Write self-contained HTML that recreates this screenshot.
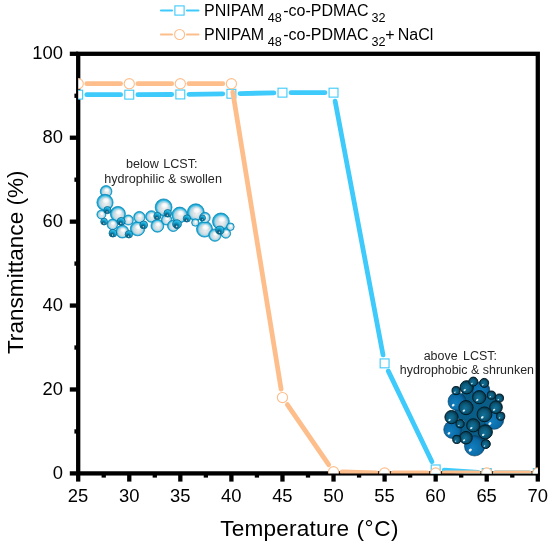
<!DOCTYPE html>
<html><head><meta charset="utf-8"><title>Transmittance vs Temperature</title>
<style>
html,body{margin:0;padding:0;background:#fff;}
body{width:550px;height:545px;overflow:hidden;}
svg{display:block;}
text{font-family:"Liberation Sans",Arial,sans-serif;fill:#000;}
</style></head><body>
<svg width="550" height="545" viewBox="0 0 550 545">
<defs>
<clipPath id="plot"><rect x="78.20" y="53.80" width="459.60" height="419.60"/></clipPath>
<radialGradient id="gl" cx="0.5" cy="0.5" r="0.5" fx="0.57" fy="0.62">
<stop offset="0" stop-color="#e9eef0"/><stop offset="0.4" stop-color="#d9e2e6"/><stop offset="0.6" stop-color="#c6d9e1"/><stop offset="0.74" stop-color="#97d3e7"/><stop offset="0.85" stop-color="#3ab8df"/><stop offset="0.94" stop-color="#14a3d2"/><stop offset="1" stop-color="#0b8bb8"/>
</radialGradient>
<radialGradient id="hl" cx="0.5" cy="0.5" r="0.5">
<stop offset="0" stop-color="#ffffff" stop-opacity="1"/><stop offset="0.5" stop-color="#ffffff" stop-opacity="0.75"/><stop offset="1" stop-color="#ffffff" stop-opacity="0"/>
</radialGradient>
<radialGradient id="gd" cx="0.4" cy="0.72" r="0.72" fx="0.38" fy="0.76">
<stop offset="0" stop-color="#05445e"/><stop offset="0.3" stop-color="#086a90"/><stop offset="0.58" stop-color="#14a0cc"/><stop offset="0.82" stop-color="#2dbbe6"/><stop offset="1" stop-color="#3cc4ec"/>
</radialGradient>
<radialGradient id="gb" cx="0.4" cy="0.6" r="0.65">
<stop offset="0" stop-color="#127fbf"/><stop offset="0.7" stop-color="#0a69a4"/><stop offset="1" stop-color="#05426c"/>
</radialGradient>
<radialGradient id="gk" cx="0.45" cy="0.55" r="0.6">
<stop offset="0" stop-color="#12729a"/><stop offset="0.55" stop-color="#0b5878"/><stop offset="0.85" stop-color="#06384d"/><stop offset="1" stop-color="#021c27"/>
</radialGradient>
</defs>
<rect width="550" height="545" fill="#fff"/>

<g stroke="#000" stroke-width="4.3" fill="none">
<rect x="78.2" y="53.8" width="459.60" height="419.60"/>
<line x1="69.8" x2="78.2" y1="473.40" y2="473.40"/>
<line x1="69.8" x2="78.2" y1="389.48" y2="389.48"/>
<line x1="69.8" x2="78.2" y1="305.56" y2="305.56"/>
<line x1="69.8" x2="78.2" y1="221.64" y2="221.64"/>
<line x1="69.8" x2="78.2" y1="137.72" y2="137.72"/>
<line x1="69.8" x2="78.2" y1="53.80" y2="53.80"/>
<line x1="74.4" x2="78.2" y1="431.44" y2="431.44"/>
<line x1="74.4" x2="78.2" y1="347.52" y2="347.52"/>
<line x1="74.4" x2="78.2" y1="263.60" y2="263.60"/>
<line x1="74.4" x2="78.2" y1="179.68" y2="179.68"/>
<line x1="74.4" x2="78.2" y1="95.76" y2="95.76"/>
<line y1="473.4" y2="481.6" x1="78.20" x2="78.20"/>
<line y1="473.4" y2="481.6" x1="129.27" x2="129.27"/>
<line y1="473.4" y2="481.6" x1="180.33" x2="180.33"/>
<line y1="473.4" y2="481.6" x1="231.40" x2="231.40"/>
<line y1="473.4" y2="481.6" x1="282.47" x2="282.47"/>
<line y1="473.4" y2="481.6" x1="333.53" x2="333.53"/>
<line y1="473.4" y2="481.6" x1="384.60" x2="384.60"/>
<line y1="473.4" y2="481.6" x1="435.67" x2="435.67"/>
<line y1="473.4" y2="481.6" x1="486.73" x2="486.73"/>
<line y1="473.4" y2="481.6" x1="537.80" x2="537.80"/>
<line y1="473.4" y2="477.6" x1="103.73" x2="103.73"/>
<line y1="473.4" y2="477.6" x1="154.80" x2="154.80"/>
<line y1="473.4" y2="477.6" x1="205.87" x2="205.87"/>
<line y1="473.4" y2="477.6" x1="256.93" x2="256.93"/>
<line y1="473.4" y2="477.6" x1="308.00" x2="308.00"/>
<line y1="473.4" y2="477.6" x1="359.07" x2="359.07"/>
<line y1="473.4" y2="477.6" x1="410.13" x2="410.13"/>
<line y1="473.4" y2="477.6" x1="461.20" x2="461.20"/>
<line y1="473.4" y2="477.6" x1="512.27" x2="512.27"/>
</g>
<g font-size="18.4" text-anchor="end">
<text x="62.9" y="478.50">0</text>
<text x="62.9" y="394.58">20</text>
<text x="62.9" y="310.66">40</text>
<text x="62.9" y="226.74">60</text>
<text x="62.9" y="142.82">80</text>
<text x="62.9" y="58.90">100</text>
</g>
<g font-size="18.4" text-anchor="middle">
<text x="78.10" y="501.8">25</text>
<text x="129.17" y="501.8">30</text>
<text x="180.23" y="501.8">35</text>
<text x="231.30" y="501.8">40</text>
<text x="282.37" y="501.8">45</text>
<text x="333.43" y="501.8">50</text>
<text x="384.50" y="501.8">55</text>
<text x="435.57" y="501.8">60</text>
<text x="486.63" y="501.8">65</text>
<text x="537.70" y="501.8">70</text>
</g>
<text x="220.3" y="536.1" font-size="22.6"><tspan letter-spacing="0.2">Temperature </tspan><tspan x="356.6" letter-spacing="0.5">(°C)</tspan></text>
<text transform="translate(23.0 354.1) rotate(-90)" font-size="22.6">Transmittance (%)</text>
<g clip-path="url(#plot)">
<g stroke="#3ecafa" stroke-width="4.8" stroke-linecap="round" fill="none"><line x1="86.80" y1="94.67" x2="120.67" y2="94.67"/><line x1="137.87" y1="94.64" x2="171.73" y2="94.50"/><line x1="188.93" y1="94.34" x2="222.80" y2="93.87"/><line x1="240.00" y1="93.57" x2="273.87" y2="92.84"/><line x1="291.07" y1="92.66" x2="324.93" y2="92.66"/><line x1="335.13" y1="101.11" x2="383.01" y2="354.93"/><line x1="388.33" y1="371.13" x2="431.94" y2="461.69"/><line x1="444.25" y1="470.04" x2="478.15" y2="472.40"/><line x1="495.33" y1="473.00" x2="529.20" y2="473.00"/></g>
<g stroke="#3ecafa" stroke-width="1.1" fill="#fff"><rect x="73.75" y="90.22" width="8.9" height="8.9"/><rect x="124.82" y="90.22" width="8.9" height="8.9"/><rect x="175.88" y="90.01" width="8.9" height="8.9"/><rect x="226.95" y="89.30" width="8.9" height="8.9"/><rect x="278.02" y="88.21" width="8.9" height="8.9"/><rect x="329.08" y="88.21" width="8.9" height="8.9"/><rect x="380.15" y="358.93" width="8.9" height="8.9"/><rect x="431.22" y="464.99" width="8.9" height="8.9"/><rect x="482.28" y="468.55" width="8.9" height="8.9"/><rect x="533.35" y="468.55" width="8.9" height="8.9"/></g>
<g stroke="#febe8b" stroke-width="4.8" stroke-linecap="round" fill="none"><line x1="86.80" y1="83.69" x2="120.67" y2="83.69"/><line x1="137.87" y1="83.69" x2="171.73" y2="83.69"/><line x1="188.93" y1="83.69" x2="222.80" y2="83.69"/><line x1="232.78" y1="92.18" x2="281.09" y2="389.06"/><line x1="287.34" y1="404.63" x2="328.66" y2="464.66"/><line x1="342.13" y1="471.95" x2="376.00" y2="472.79"/><line x1="393.20" y1="473.00" x2="427.07" y2="473.00"/><line x1="444.27" y1="473.00" x2="478.13" y2="473.00"/><line x1="495.33" y1="473.00" x2="529.20" y2="473.00"/></g>
<g stroke="#febe8b" stroke-width="1.1" fill="#fff"><circle cx="78.20" cy="83.69" r="5.1"/><circle cx="129.27" cy="83.69" r="5.1"/><circle cx="180.33" cy="83.69" r="5.1"/><circle cx="231.40" cy="83.69" r="5.1"/><circle cx="282.47" cy="397.54" r="5.1"/><circle cx="333.53" cy="471.74" r="5.1"/><circle cx="384.60" cy="473.00" r="5.1"/><circle cx="435.67" cy="473.00" r="5.1"/><circle cx="486.73" cy="473.00" r="5.1"/><circle cx="537.80" cy="473.00" r="5.1"/></g>
</g>
<g stroke="#3ecafa" stroke-width="2.2" stroke-linecap="round"><line x1="161" y1="10.5" x2="172" y2="10.5"/><line x1="187" y1="10.5" x2="198.4" y2="10.5"/></g>
<rect x="174.9" y="5.9" width="9.2" height="9.2" fill="#fff" stroke="#3ecafa" stroke-width="1.1"/>
<g stroke="#febe8b" stroke-width="2.2" stroke-linecap="round"><line x1="161" y1="34.5" x2="172" y2="34.5"/><line x1="187" y1="34.5" x2="198.4" y2="34.5"/></g>
<circle cx="179.6" cy="34.5" r="5" fill="#fff" stroke="#febe8b" stroke-width="1.1"/>
<text y="15.8" font-size="16"><tspan x="204">PNIPAM</tspan><tspan x="267.7" font-size="12.6" dy="5.8">48</tspan><tspan x="283.2" dy="-5.8">-co-PDMAC</tspan><tspan x="371.6" font-size="12.6" dy="5.8">32</tspan></text>
<text y="40.2" font-size="16"><tspan x="204">PNIPAM</tspan><tspan x="267.7" font-size="12.6" dy="5.8">48</tspan><tspan x="283.2" dy="-5.8">-co-PDMAC</tspan><tspan x="371.6" font-size="12.6" dy="5.8">32</tspan><tspan x="385.2" dy="-5.8">+</tspan><tspan x="397.8">NaCl</tspan></text>
<g text-anchor="middle"><text x="161.8" y="168.2" font-size="12.6" word-spacing="0.8" style="fill:#262626">below LCST:</text><text x="163.1" y="183.0" font-size="12.6" style="fill:#262626">hydrophilic &amp; swollen</text>
<text x="460.3" y="359.8" font-size="12.45" word-spacing="2" style="fill:#262626">above LCST:</text><text x="466.9" y="374.2" font-size="12.45" style="fill:#262626">hydrophobic &amp; shrunken</text></g>
<g>
<circle cx="106.1" cy="191.4" r="5.8" fill="url(#gl)" stroke="#0e8dbb" stroke-width="0.8"/>
<ellipse cx="106.80" cy="190.12" rx="2.90" ry="2.44" fill="url(#hl)"/>
<circle cx="105" cy="202.4" r="8.1" fill="url(#gl)" stroke="#0e8dbb" stroke-width="0.8"/>
<ellipse cx="105.97" cy="200.62" rx="4.05" ry="3.40" fill="url(#hl)"/>
<circle cx="101.4" cy="214.5" r="4.5" fill="url(#gl)" stroke="#0e8dbb" stroke-width="0.8"/>
<ellipse cx="101.94" cy="213.51" rx="2.25" ry="1.89" fill="url(#hl)"/>
<circle cx="117.9" cy="213.9" r="7.5" fill="url(#gl)" stroke="#0e8dbb" stroke-width="0.8"/>
<ellipse cx="118.80" cy="212.25" rx="3.75" ry="3.15" fill="url(#hl)"/>
<circle cx="112.4" cy="224.4" r="5.3" fill="url(#gl)" stroke="#0e8dbb" stroke-width="0.8"/>
<ellipse cx="113.04" cy="223.23" rx="2.65" ry="2.23" fill="url(#hl)"/>
<circle cx="122.3" cy="231.6" r="6.4" fill="url(#gl)" stroke="#0e8dbb" stroke-width="0.8"/>
<ellipse cx="123.07" cy="230.19" rx="3.20" ry="2.69" fill="url(#hl)"/>
<circle cx="128.3" cy="220" r="5" fill="url(#gl)" stroke="#0e8dbb" stroke-width="0.8"/>
<ellipse cx="128.90" cy="218.90" rx="2.50" ry="2.10" fill="url(#hl)"/>
<circle cx="137.6" cy="228.6" r="7.2" fill="url(#gl)" stroke="#0e8dbb" stroke-width="0.8"/>
<ellipse cx="138.46" cy="227.02" rx="3.60" ry="3.02" fill="url(#hl)"/>
<circle cx="139.4" cy="217.1" r="5.7" fill="url(#gl)" stroke="#0e8dbb" stroke-width="0.8"/>
<ellipse cx="140.08" cy="215.85" rx="2.85" ry="2.39" fill="url(#hl)"/>
<circle cx="151.4" cy="216.5" r="5.8" fill="url(#gl)" stroke="#0e8dbb" stroke-width="0.8"/>
<ellipse cx="152.10" cy="215.22" rx="2.90" ry="2.44" fill="url(#hl)"/>
<circle cx="157.4" cy="225.8" r="6.4" fill="url(#gl)" stroke="#0e8dbb" stroke-width="0.8"/>
<ellipse cx="158.17" cy="224.39" rx="3.20" ry="2.69" fill="url(#hl)"/>
<circle cx="163.6" cy="207.3" r="8.4" fill="url(#gl)" stroke="#0e8dbb" stroke-width="0.8"/>
<ellipse cx="164.61" cy="205.45" rx="4.20" ry="3.53" fill="url(#hl)"/>
<circle cx="166.6" cy="219.8" r="5.2" fill="url(#gl)" stroke="#0e8dbb" stroke-width="0.8"/>
<ellipse cx="167.22" cy="218.66" rx="2.60" ry="2.18" fill="url(#hl)"/>
<circle cx="173.2" cy="225.8" r="5.7" fill="url(#gl)" stroke="#0e8dbb" stroke-width="0.8"/>
<ellipse cx="173.88" cy="224.55" rx="2.85" ry="2.39" fill="url(#hl)"/>
<circle cx="179.7" cy="214.9" r="7.8" fill="url(#gl)" stroke="#0e8dbb" stroke-width="0.8"/>
<ellipse cx="180.64" cy="213.18" rx="3.90" ry="3.28" fill="url(#hl)"/>
<circle cx="195.8" cy="212.2" r="8.4" fill="url(#gl)" stroke="#0e8dbb" stroke-width="0.8"/>
<ellipse cx="196.81" cy="210.35" rx="4.20" ry="3.53" fill="url(#hl)"/>
<circle cx="204.5" cy="229.1" r="8" fill="url(#gl)" stroke="#0e8dbb" stroke-width="0.8"/>
<ellipse cx="205.46" cy="227.34" rx="4.00" ry="3.36" fill="url(#hl)"/>
<circle cx="204.9" cy="217.6" r="5.3" fill="url(#gl)" stroke="#0e8dbb" stroke-width="0.8"/>
<ellipse cx="205.54" cy="216.43" rx="2.65" ry="2.23" fill="url(#hl)"/>
<circle cx="195.3" cy="222.5" r="3.7" fill="url(#gl)" stroke="#0e8dbb" stroke-width="0.8"/>
<ellipse cx="195.74" cy="221.69" rx="1.85" ry="1.55" fill="url(#hl)"/>
<circle cx="214.9" cy="235.1" r="6.2" fill="url(#gl)" stroke="#0e8dbb" stroke-width="0.8"/>
<ellipse cx="215.64" cy="233.74" rx="3.10" ry="2.60" fill="url(#hl)"/>
<circle cx="220.9" cy="221.4" r="8.4" fill="url(#gl)" stroke="#0e8dbb" stroke-width="0.8"/>
<ellipse cx="221.91" cy="219.55" rx="4.20" ry="3.53" fill="url(#hl)"/>
<circle cx="225.8" cy="233.4" r="4.8" fill="url(#gl)" stroke="#0e8dbb" stroke-width="0.8"/>
<ellipse cx="226.38" cy="232.34" rx="2.40" ry="2.02" fill="url(#hl)"/>
<circle cx="230.4" cy="226.7" r="3.8" fill="url(#gl)" stroke="#0e8dbb" stroke-width="0.8"/>
<ellipse cx="230.86" cy="225.86" rx="1.90" ry="1.60" fill="url(#hl)"/>
<circle cx="107.4" cy="210.1" r="3.6" fill="url(#gd)" stroke="#086489" stroke-width="0.8"/>
<circle cx="107.0" cy="211.9" r="0.72" fill="#fff" opacity="0.75"/>
<circle cx="104.1" cy="221.6" r="3.4" fill="url(#gd)" stroke="#086489" stroke-width="0.8"/>
<circle cx="103.8" cy="223.3" r="0.68" fill="#fff" opacity="0.75"/>
<circle cx="121.2" cy="221.4" r="4" fill="url(#gd)" stroke="#086489" stroke-width="0.8"/>
<circle cx="120.8" cy="223.4" r="0.80" fill="#fff" opacity="0.75"/>
<circle cx="112.9" cy="233.2" r="3.9" fill="url(#gd)" stroke="#086489" stroke-width="0.8"/>
<circle cx="112.5" cy="235.1" r="0.78" fill="#fff" opacity="0.75"/>
<circle cx="128.9" cy="234.3" r="3.7" fill="url(#gd)" stroke="#086489" stroke-width="0.8"/>
<circle cx="128.5" cy="236.2" r="0.74" fill="#fff" opacity="0.75"/>
<circle cx="143.7" cy="224.9" r="3.9" fill="url(#gd)" stroke="#086489" stroke-width="0.8"/>
<circle cx="143.3" cy="226.8" r="0.78" fill="#fff" opacity="0.75"/>
<circle cx="157.4" cy="216" r="3.6" fill="url(#gd)" stroke="#086489" stroke-width="0.8"/>
<circle cx="157.0" cy="217.8" r="0.72" fill="#fff" opacity="0.75"/>
<circle cx="167.7" cy="213.3" r="3.8" fill="url(#gd)" stroke="#086489" stroke-width="0.8"/>
<circle cx="167.3" cy="215.2" r="0.76" fill="#fff" opacity="0.75"/>
<circle cx="177" cy="224.2" r="4.4" fill="url(#gd)" stroke="#086489" stroke-width="0.8"/>
<circle cx="176.6" cy="226.4" r="0.88" fill="#fff" opacity="0.75"/>
<circle cx="186.9" cy="218.5" r="3.6" fill="url(#gd)" stroke="#086489" stroke-width="0.8"/>
<circle cx="186.5" cy="220.3" r="0.72" fill="#fff" opacity="0.75"/>
<circle cx="202.6" cy="217.9" r="2.9" fill="url(#gd)" stroke="#086489" stroke-width="0.8"/>
<circle cx="202.3" cy="219.3" r="0.58" fill="#fff" opacity="0.75"/>
<circle cx="219.8" cy="230.2" r="4.1" fill="url(#gd)" stroke="#086489" stroke-width="0.8"/>
<circle cx="219.4" cy="232.2" r="0.82" fill="#fff" opacity="0.75"/>
</g>
<g>
<circle cx="481" cy="422" r="6.5" fill="#0a5d86"/>
<circle cx="470" cy="395" r="8.5" fill="#0a5d86"/>
<circle cx="481" cy="405" r="9" fill="#0a5d86"/>
<circle cx="465" cy="430" r="8.5" fill="#0a5d86"/>
<circle cx="490" cy="402" r="8" fill="#0a5d86"/>
<circle cx="478" cy="434" r="9" fill="#0a5d86"/>
<circle cx="463" cy="412" r="8.5" fill="#0a5d86"/>
<circle cx="472.9" cy="414.6" r="11" fill="#0a5d86"/>
<circle cx="457" cy="401.4" r="9" fill="url(#gb)" stroke="#05395c" stroke-width="0.6"/>
<ellipse cx="453.2" cy="405.2" rx="1.53" ry="1.17" fill="#fff" opacity="0.92" transform="rotate(-40 453.2 405.2)"/>
<circle cx="452.6" cy="429.6" r="8.9" fill="url(#gb)" stroke="#05395c" stroke-width="0.6"/>
<ellipse cx="448.9" cy="433.3" rx="1.51" ry="1.16" fill="#fff" opacity="0.92" transform="rotate(-40 448.9 433.3)"/>
<circle cx="474.6" cy="445.8" r="10.2" fill="url(#gb)" stroke="#05395c" stroke-width="0.6"/>
<ellipse cx="470.3" cy="450.1" rx="1.73" ry="1.33" fill="#fff" opacity="0.92" transform="rotate(-40 470.3 450.1)"/>
<circle cx="494" cy="419.5" r="9.8" fill="url(#gb)" stroke="#05395c" stroke-width="0.6"/>
<ellipse cx="489.9" cy="423.6" rx="1.67" ry="1.27" fill="#fff" opacity="0.92" transform="rotate(-40 489.9 423.6)"/>
<circle cx="481.2" cy="390.2" r="8.6" fill="url(#gb)" stroke="#05395c" stroke-width="0.6"/>
<ellipse cx="477.6" cy="393.8" rx="1.46" ry="1.12" fill="#fff" opacity="0.92" transform="rotate(-40 477.6 393.8)"/>
<circle cx="466.7" cy="387.3" r="6.6" fill="url(#gk)" stroke="#021c27" stroke-width="1"/>
<ellipse cx="464.7" cy="390.1" rx="1.32" ry="0.92" fill="#e4f8ff" opacity="0.92" transform="rotate(-35 464.7 390.1)"/>
<circle cx="473.3" cy="381.6" r="4.5" fill="url(#gk)" stroke="#021c27" stroke-width="1"/>
<ellipse cx="471.9" cy="383.5" rx="0.90" ry="0.63" fill="#e4f8ff" opacity="0.92" transform="rotate(-35 471.9 383.5)"/>
<circle cx="484.2" cy="382.9" r="4.5" fill="url(#gk)" stroke="#021c27" stroke-width="1"/>
<ellipse cx="482.8" cy="384.8" rx="0.90" ry="0.63" fill="#e4f8ff" opacity="0.92" transform="rotate(-35 482.8 384.8)"/>
<circle cx="456.1" cy="390.6" r="4.1" fill="url(#gk)" stroke="#021c27" stroke-width="1"/>
<ellipse cx="454.9" cy="392.3" rx="0.82" ry="0.57" fill="#e4f8ff" opacity="0.92" transform="rotate(-35 454.9 392.3)"/>
<circle cx="479.2" cy="397.2" r="6.6" fill="url(#gk)" stroke="#021c27" stroke-width="1"/>
<ellipse cx="477.2" cy="400.0" rx="1.32" ry="0.92" fill="#e4f8ff" opacity="0.92" transform="rotate(-35 477.2 400.0)"/>
<circle cx="491.4" cy="395.1" r="4.1" fill="url(#gk)" stroke="#021c27" stroke-width="1"/>
<ellipse cx="490.2" cy="396.8" rx="0.82" ry="0.57" fill="#e4f8ff" opacity="0.92" transform="rotate(-35 490.2 396.8)"/>
<circle cx="499.4" cy="398.1" r="4.1" fill="url(#gk)" stroke="#021c27" stroke-width="1"/>
<ellipse cx="498.2" cy="399.8" rx="0.82" ry="0.57" fill="#e4f8ff" opacity="0.92" transform="rotate(-35 498.2 399.8)"/>
<circle cx="496" cy="407.2" r="6.3" fill="url(#gk)" stroke="#021c27" stroke-width="1"/>
<ellipse cx="494.1" cy="409.8" rx="1.26" ry="0.88" fill="#e4f8ff" opacity="0.92" transform="rotate(-35 494.1 409.8)"/>
<circle cx="500.7" cy="416.2" r="4.1" fill="url(#gk)" stroke="#021c27" stroke-width="1"/>
<ellipse cx="499.5" cy="417.9" rx="0.82" ry="0.57" fill="#e4f8ff" opacity="0.92" transform="rotate(-35 499.5 417.9)"/>
<circle cx="466" cy="407.6" r="7.1" fill="url(#gk)" stroke="#021c27" stroke-width="1"/>
<ellipse cx="463.9" cy="410.6" rx="1.42" ry="0.99" fill="#e4f8ff" opacity="0.92" transform="rotate(-35 463.9 410.6)"/>
<circle cx="484.5" cy="414.3" r="7.4" fill="url(#gk)" stroke="#021c27" stroke-width="1"/>
<ellipse cx="482.3" cy="417.4" rx="1.48" ry="1.04" fill="#e4f8ff" opacity="0.92" transform="rotate(-35 482.3 417.4)"/>
<circle cx="451.5" cy="417.1" r="6.6" fill="url(#gk)" stroke="#021c27" stroke-width="1"/>
<ellipse cx="449.5" cy="419.9" rx="1.32" ry="0.92" fill="#e4f8ff" opacity="0.92" transform="rotate(-35 449.5 419.9)"/>
<circle cx="460.1" cy="423.7" r="4.1" fill="url(#gk)" stroke="#021c27" stroke-width="1"/>
<ellipse cx="458.9" cy="425.4" rx="0.82" ry="0.57" fill="#e4f8ff" opacity="0.92" transform="rotate(-35 458.9 425.4)"/>
<circle cx="473.3" cy="425.3" r="6.6" fill="url(#gk)" stroke="#021c27" stroke-width="1"/>
<ellipse cx="471.3" cy="428.1" rx="1.32" ry="0.92" fill="#e4f8ff" opacity="0.92" transform="rotate(-35 471.3 428.1)"/>
<circle cx="485.3" cy="431.9" r="7.1" fill="url(#gk)" stroke="#021c27" stroke-width="1"/>
<ellipse cx="483.2" cy="434.9" rx="1.42" ry="0.99" fill="#e4f8ff" opacity="0.92" transform="rotate(-35 483.2 434.9)"/>
<circle cx="466" cy="437.7" r="6.3" fill="url(#gk)" stroke="#021c27" stroke-width="1"/>
<ellipse cx="464.1" cy="440.3" rx="1.26" ry="0.88" fill="#e4f8ff" opacity="0.92" transform="rotate(-35 464.1 440.3)"/>
<circle cx="456.8" cy="439.4" r="4.1" fill="url(#gk)" stroke="#021c27" stroke-width="1"/>
<ellipse cx="455.6" cy="441.1" rx="0.82" ry="0.57" fill="#e4f8ff" opacity="0.92" transform="rotate(-35 455.6 441.1)"/>
<circle cx="485.8" cy="444" r="4.5" fill="url(#gk)" stroke="#021c27" stroke-width="1"/>
<ellipse cx="484.4" cy="445.9" rx="0.90" ry="0.63" fill="#e4f8ff" opacity="0.92" transform="rotate(-35 484.4 445.9)"/>
</g>
</svg></body></html>
